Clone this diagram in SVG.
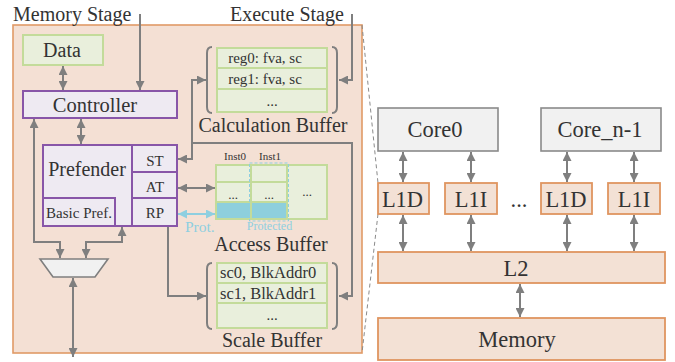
<svg xmlns="http://www.w3.org/2000/svg" width="675" height="362" viewBox="0 0 675 362">
  <defs>
    <marker id="ah" viewBox="0 0 10 10" refX="10" refY="5" markerWidth="9" markerHeight="9" markerUnits="userSpaceOnUse" orient="auto-start-reverse">
      <path d="M0,0 L10,5 L0,10 z" fill="#7f7f7f"/>
    </marker>
    <marker id="ahb" viewBox="0 0 10 10" refX="10" refY="5" markerWidth="9" markerHeight="9" markerUnits="userSpaceOnUse" orient="auto-start-reverse">
      <path d="M0,0 L10,5 L0,10 z" fill="#8ecfe0"/>
    </marker>
  </defs>
  <style>
    text { font-family: "Liberation Serif", "Times New Roman", serif; fill: #333333; }
    .t22 { font-size: 22.5px; }
    .t20 { font-size: 20px; }
    .t15 { font-size: 15px; }
    .t13 { font-size: 13px; }
    .t11 { font-size: 11px; }
    .mid { text-anchor: middle; }
    .green { fill: #e9efdc; stroke: #c3db9a; stroke-width: 2; }
    .purple { fill: #eeeaf2; stroke: #8856a8; stroke-width: 2; }
    .grey { fill: #f1f1f1; stroke: #8a8a8a; stroke-width: 1.6; }
    .cache { fill: #f3e1d5; stroke: #df9560; stroke-width: 1.8; }
    .wire { fill: none; stroke: #7f7f7f; stroke-width: 2; }
    .bracket { fill: none; stroke: #7f7f7f; stroke-width: 2; }
    .bluetxt { fill: #8ecfe0; }
    .dash { fill: none; stroke: #8a8a8a; stroke-width: 1; stroke-dasharray: 4 3; }
  </style>

  <!-- prefetch engine panel -->
  <rect id="panel" x="13" y="25" width="349" height="328" fill="#f4e0d4" stroke="#e09a66" stroke-width="1.6"/>

  <!-- zoom lines from panel to L1D -->
  <g id="zoom-lines">
    <line class="dash" x1="362" y1="25" x2="378" y2="183"/>
    <line class="dash" x1="378" y1="214" x2="362" y2="353"/>
  </g>

  <text class="t20" x="13" y="21">Memory Stage</text>
  <text class="t20" x="230" y="21">Execute Stage</text>

  <g id="data">
    <rect class="green" x="23" y="35" width="80" height="30"/>
    <text class="t20 mid" x="62" y="57">Data</text>
  </g>

  <g id="controller">
    <rect class="purple" x="23" y="91" width="154" height="27"/>
    <text class="mid" style="font-size:20.5px" x="95" y="112">Controller</text>
  </g>

  <g id="prefender">
    <rect class="purple" x="43" y="145" width="134" height="81"/>
    <line x1="132" y1="145" x2="132" y2="226" stroke="#8856a8" stroke-width="2"/>
    <line x1="132" y1="172" x2="177" y2="172" stroke="#8856a8" stroke-width="2"/>
    <line x1="132" y1="198" x2="177" y2="198" stroke="#8856a8" stroke-width="2"/>
    <rect x="43" y="198" width="72" height="28" fill="none" stroke="#8856a8" stroke-width="2"/>
    <text class="t20 mid" x="87" y="176">Prefender</text>
    <text class="t15 mid" x="155" y="166">ST</text>
    <text class="t15 mid" x="155" y="192">AT</text>
    <text class="t15 mid" x="155" y="218">RP</text>
    <text class="t15 mid" x="79" y="218">Basic Pref.</text>
  </g>

  <g id="mux">
    <polygon points="40,259 108,259 95,277 53,277" fill="#f1f1f1" stroke="#7f7f7f" stroke-width="1.6"/>
  </g>

  <g id="calculation-buffer">
    <rect class="green" x="217" y="48" width="110" height="20"/>
    <rect class="green" x="217" y="68" width="110" height="21"/>
    <rect class="green" x="217" y="89" width="110" height="23"/>
    <text class="t15 mid" x="265" y="63">reg0: fva, sc</text>
    <text class="t15 mid" x="265" y="84">reg1: fva, sc</text>
    <text class="t15 mid" x="272" y="106">...</text>
    <path class="bracket" d="M212,47 Q207,47 207,53 L207,107 Q207,113 212,113"/>
    <path class="bracket" d="M332,47 Q337,47 337,53 L337,107 Q337,113 332,113"/>
    <text class="t20 mid" x="273" y="132">Calculation Buffer</text>
  </g>

  <g id="access-buffer">
    <text class="t11 mid" x="235" y="160">Inst0</text>
    <text class="t11 mid" x="270" y="160">Inst1</text>
    <rect class="green" x="216" y="165" width="35" height="17"/>
    <rect class="green" x="251" y="165" width="36" height="17"/>
    <rect class="green" x="216" y="182" width="35" height="20"/>
    <rect class="green" x="251" y="182" width="36" height="20"/>
    <rect x="216" y="202" width="35" height="17" fill="#8ecfdc" stroke="#c3db9a" stroke-width="2"/>
    <rect x="251" y="202" width="36" height="17" fill="#8ecfdc" stroke="#c3db9a" stroke-width="2"/>
    <rect class="green" x="287" y="165" width="40" height="54"/>
    <rect x="249.5" y="163" width="39" height="58" fill="none" stroke="#8ecfe0" stroke-width="1" stroke-dasharray="3 2"/>
    <text class="t13 mid" x="233" y="199">...</text>
    <text class="t13 mid" x="269" y="199">...</text>
    <text class="t13 mid" x="307" y="196">...</text>
    <text class="bluetxt" style="font-size:15.5px" x="185" y="232">Prot.</text>
    <text class="mid bluetxt" style="font-size:12px" x="269.5" y="230">Protected</text>
    <text class="t20 mid" x="271" y="251">Access Buffer</text>
  </g>

  <g id="scale-buffer">
    <rect class="green" x="217" y="263" width="110" height="20"/>
    <rect class="green" x="217" y="283" width="110" height="20"/>
    <rect class="green" x="217" y="303" width="110" height="25"/>
    <text style="font-size:16.5px" x="220" y="278">sc0, BlkAddr0</text>
    <text style="font-size:16.5px" x="220" y="299">sc1, BlkAddr1</text>
    <text class="t15 mid" x="272" y="320">...</text>
    <path class="bracket" d="M212,263 Q207,263 207,269 L207,323 Q207,329 212,329"/>
    <path class="bracket" d="M332,263 Q337,263 337,269 L337,323 Q337,329 332,329"/>
    <text class="t20 mid" x="272" y="347">Scale Buffer</text>
  </g>

  <g id="core0">
    <rect class="grey" x="378" y="108" width="120" height="43"/>
    <text class="t22 mid" x="435" y="137">Core0</text>
  </g>
  <g id="core-n-1">
    <rect class="grey" x="541" y="108" width="120" height="43"/>
    <text class="t22 mid" x="600" y="137">Core_n-1</text>
  </g>
  <g id="l1d-0">
    <rect class="cache" x="378" y="183" width="51" height="31"/>
    <text class="t22 mid" x="402.5" y="207">L1D</text>
  </g>
  <g id="l1i-0">
    <rect class="cache" x="445" y="183" width="52" height="31"/>
    <text class="t22 mid" x="471" y="207">L1I</text>
  </g>
  <text class="t22 mid" x="519" y="207">...</text>
  <g id="l1d-n">
    <rect class="cache" x="541" y="183" width="51" height="31"/>
    <text class="t22 mid" x="566" y="207">L1D</text>
  </g>
  <g id="l1i-n">
    <rect class="cache" x="608" y="183" width="52" height="31"/>
    <text class="t22 mid" x="634" y="207">L1I</text>
  </g>
  <g id="l2">
    <rect class="cache" x="378" y="252" width="287" height="31"/>
    <text class="t22 mid" x="516" y="276">L2</text>
  </g>
  <g id="memory">
    <rect class="cache" x="378" y="318" width="287" height="42"/>
    <text class="t22 mid" x="517" y="347">Memory</text>
  </g>

  <g id="connectors">
    <!-- pipeline stage inputs -->
    <path class="wire" d="M140,14 L140,90" marker-end="url(#ah)"/>
    <path class="wire" d="M352,14 L352,80 L339,80" marker-end="url(#ah)"/>
    <!-- data / controller / prefender -->
    <path class="wire" d="M63,66 L63,90" marker-start="url(#ah)" marker-end="url(#ah)"/>
    <path class="wire" d="M81,119 L81,144" marker-start="url(#ah)" marker-end="url(#ah)"/>
    <!-- to mux -->
    <path class="wire" d="M34,119 L34,242 L60,242 L60,258" marker-start="url(#ah)" marker-end="url(#ah)"/>
    <path class="wire" d="M122,227 L122,242 L86,242 L86,258" marker-start="url(#ah)" marker-end="url(#ah)"/>
    <path class="wire" d="M73,278 L73,357" marker-start="url(#ah)" marker-end="url(#ah)"/>
    <!-- ST to calculation buffer, branch to scale buffer -->
    <path class="wire" d="M178,159 L192,159 L192,80 L206,80" marker-start="url(#ah)" marker-end="url(#ah)"/>
    <path class="wire" d="M192,143 L352,143 L352,296 L339,296" marker-end="url(#ah)"/>
    <!-- AT / RP to access buffer -->
    <path class="wire" d="M178,188 L215,188" marker-start="url(#ah)" marker-end="url(#ah)"/>
    <path d="M178,214 L215,214" fill="none" stroke="#8ecfe0" stroke-width="2" marker-start="url(#ahb)" marker-end="url(#ahb)"/>
    <!-- prefender to scale buffer -->
    <path class="wire" d="M168,227 L168,296 L206,296" marker-end="url(#ah)"/>
    <!-- cores to L1 -->
    <path class="wire" d="M403,152 L403,182" marker-start="url(#ah)" marker-end="url(#ah)"/>
    <path class="wire" d="M471,152 L471,182" marker-start="url(#ah)" marker-end="url(#ah)"/>
    <path class="wire" d="M567,152 L567,182" marker-start="url(#ah)" marker-end="url(#ah)"/>
    <path class="wire" d="M634,152 L634,182" marker-start="url(#ah)" marker-end="url(#ah)"/>
    <!-- L1 to L2 -->
    <path class="wire" d="M403,215 L403,251" marker-start="url(#ah)" marker-end="url(#ah)"/>
    <path class="wire" d="M471,215 L471,251" marker-start="url(#ah)" marker-end="url(#ah)"/>
    <path class="wire" d="M567,215 L567,251" marker-start="url(#ah)" marker-end="url(#ah)"/>
    <path class="wire" d="M634,215 L634,251" marker-start="url(#ah)" marker-end="url(#ah)"/>
    <!-- L2 to memory -->
    <path class="wire" d="M520,284 L520,317" marker-start="url(#ah)" marker-end="url(#ah)"/>
  </g>
</svg>
